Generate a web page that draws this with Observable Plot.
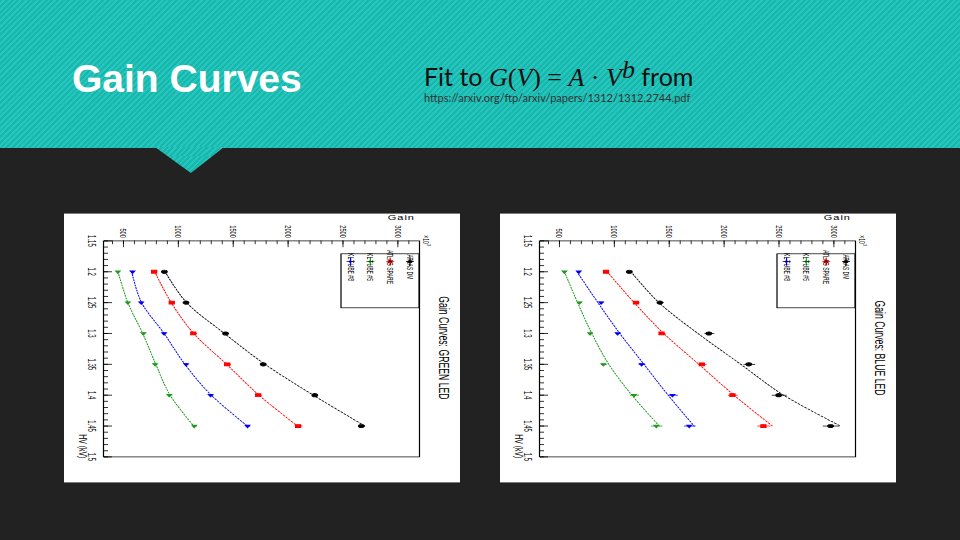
<!DOCTYPE html>
<html><head><meta charset="utf-8">
<script src="https://cdn.jsdelivr.net/npm/d3@7"></script>
<script src="https://cdn.jsdelivr.net/npm/@observablehq/plot@0.6"></script>
<style>
html,body{margin:0;padding:0}
body{width:960px;height:540px;background:#222222;overflow:hidden;position:relative;font-family:"Liberation Sans",Arial,sans-serif}
.teal{background:repeating-linear-gradient(135deg,#16b8ae 0px,#16b8ae 2px,#27c5bb 2px,#27c5bb 4px)}
#header{position:absolute;left:0;top:0;width:960px;height:148px}
#notch{position:absolute;left:155px;top:147px;width:69px;height:26px;clip-path:polygon(0 0,100% 0,52% 100%);background-position:-155px -147px}
#title{position:absolute;left:72px;top:57px;color:#fff;font:bold 39px "Liberation Sans",Arial,sans-serif;white-space:nowrap;line-height:44px}
#fit{position:absolute;left:424px;top:60px;color:#111;font-family:"Lato","Open Sans",sans-serif;font-size:25px;white-space:nowrap;line-height:32px}
#fit .m{font-family:"Liberation Serif","DejaVu Serif",serif;font-style:italic;font-size:26px}
#fit .p{font-family:"Liberation Serif","DejaVu Serif",serif;font-size:26px}
#fit sup{font-size:14px;line-height:0;vertical-align:8px}
#url{position:absolute;left:424px;top:91px;color:#333;font-family:"Lato","Open Sans",sans-serif;font-size:11px;white-space:nowrap}
.panel{position:absolute;width:448px;height:396px;transform-origin:224px 198px;transform:rotate(90deg) scale(0.6,1)}
</style></head>
<body>
<div id="header" class="teal"></div>
<div id="notch" class="teal"></div>
<div id="title">Gain Curves</div>
<div id="fit">Fit to <span class="m">G</span><span class="p">(</span><span class="m">V</span><span class="p">)</span> <span class="p">=</span> <span class="m">A</span><span class="p"> · </span><span class="m">V</span><sup class="m">b</sup> from</div>
<div id="url">https://arxiv.org/ftp/arxiv/papers/1312/1312.2744.pdf</div>
<div id="p1" class="panel" style="left:38px;top:149.5px"></div>
<div id="p2" class="panel" style="left:474px;top:149.5px"></div>
<script>
// ---- data (gain in units of 10^3) ----
const hv = [1.2, 1.25, 1.3, 1.35, 1.4, 1.45];
const seriesNames = ["ATLAS DM", "ATLAS SPARE", "KL TUBE #5", "KL TUBE #8"];
const seriesColors = ["#000000", "#ff0000", "#1f9a1f", "#0000ee"];
const seriesSymbols = ["circle", "square", "triangle", "triangle"];

// GREEN LED
const greenDM     = [873, 1070, 1430, 1773, 2243, 2667];
const greenSpare  = [779, 940, 1136, 1445, 1727, 2091];
const greenKL5    = [449, 540, 682, 788, 918, 1145];
const greenKL8    = [582, 661, 870, 1070, 1294, 1630];
const greenDMErr    = [15, 18, 20, 22, 25, 30];
const greenSpareErr = [25, 25, 28, 30, 32, 35];
const greenKL5Err   = [10, 12, 12, 14, 16, 18];
const greenKL8Err   = [12, 14, 15, 16, 18, 20];
const greenDMFit    = [880, 1075, 1420, 1790, 2230, 2700];
const greenSpareFit = [785, 935, 1140, 1440, 1735, 2085];
const greenKL5Fit   = [450, 540, 675, 795, 925, 1140];
const greenKL8Fit   = [575, 665, 870, 1060, 1300, 1630];

// BLUE LED
const blueDM     = [1136, 1415, 1861, 2225, 2497, 2970];
const blueSpare  = [924, 1197, 1430, 1797, 2076, 2358];
const blueKL5    = [545, 682, 779, 900, 1179, 1382];
const blueKL8    = [676, 879, 1030, 1248, 1530, 1682];
const blueDMErr    = [22, 30, 45, 53, 68, 76];
const blueSpareErr = [25, 28, 32, 38, 45, 60];
const blueKL5Err   = [12, 15, 20, 28, 42, 52];
const blueKL8Err   = [14, 18, 22, 30, 45, 53];
const blueDMFit    = [1152, 1406, 1761, 2152, 2543, 3061];
const blueSpareFit = [935, 1180, 1450, 1770, 2090, 2440];
const blueKL5Fit   = [545, 665, 795, 950, 1160, 1410];
const blueKL8Fit   = [660, 850, 1050, 1270, 1490, 1727];

const hvTicks = [1.15, 1.2, 1.25, 1.3, 1.35, 1.4, 1.45, 1.5];
const hvMinorTicks = d3.range(115, 151).map(d => d / 100);
const gainTicks = [500, 1000, 1500, 2000, 2500, 3000];
const gainMinorTicks = d3.range(4, 32).map(d => d * 100);
const hvDomain = [1.15, 1.5];
const gainDomain = [318, 3197];

function makeRows(vals, errs, fits) {
  const pts = [], fit = [];
  seriesNames.forEach((s, i) => {
    hv.forEach((h, j) => {
      pts.push({series: s, hv: h, gain: vals[i][j], err: errs[i][j]});
      fit.push({series: s, hv: h, fit: fits[i][j]});
    });
  });
  return {pts, fit};
}

function chart(title, data) {
  const W = 448, H = 396, mL = 45, mR = 43, mT = 40, mB = 40;
  const fw = W - mL - mR, fh = H - mT - mB;
  const big = data.pts.filter(d => d.series === "ATLAS DM" || d.series === "ATLAS SPARE");
  const small = data.pts.filter(d => !(d.series === "ATLAS DM" || d.series === "ATLAS SPARE"));
  const svg = Plot.plot({
    width: W, height: H,
    marginLeft: mL, marginRight: mR, marginTop: mT, marginBottom: mB,
    style: {background: "white", fontFamily: "'Liberation Sans', Arial, sans-serif", color: "black", overflow: "visible"},
    x: {domain: hvDomain},
    y: {domain: gainDomain},
    color: {domain: seriesNames, range: seriesColors},
    symbol: {domain: seriesNames, range: seriesSymbols},
    marks: [
      Plot.tickX(hvMinorTicks, {x: d => d, insetTop: fh - 4, stroke: "black"}),
      Plot.tickX(hvTicks, {x: d => d, insetTop: fh - 8, stroke: "black"}),
      Plot.tickY(gainMinorTicks, {y: d => d, insetRight: fw - 6, stroke: "black"}),
      Plot.tickY(gainTicks, {y: d => d, insetRight: fw - 11, stroke: "black"}),
      Plot.axisX({ticks: hvTicks, tickSize: 0, tickPadding: 8, label: null, fontSize: 10,
                  tickFormat: d => String(+d.toFixed(2))}),
      Plot.axisY({ticks: gainTicks, tickSize: 0, tickPadding: 5, label: null, fontSize: 9.5,
                  tickFormat: d => String(d)}),
      Plot.line(data.fit, {x: "hv", y: "fit", z: "series", stroke: "series", curve: "catmull-rom",
                  strokeWidth: 1.1, strokeDasharray: "2.2,2.2"}),
      Plot.ruleX(data.pts, {x: "hv", y1: d => d.gain - d.err, y2: d => d.gain + d.err, stroke: "series", strokeWidth: 1.2}),
      Plot.dot(big, {x: "hv", y: "gain", fill: "series", stroke: "series", symbol: "series", r: 2.7}),
      Plot.dot(small, {x: "hv", y: "gain", fill: "series", stroke: "series", symbol: "series", r: 1.6, rotate: 90}),
      Plot.frame({stroke: "black", strokeWidth: 1.2})
    ]
  });
  const s = d3.select(svg);
  // title
  s.append("text").attr("x", W / 2).attr("y", 21).attr("text-anchor", "middle")
    .attr("font-size", 14.5).attr("fill", "black").text(title);
  // y title
  s.append("text").attr("transform", `translate(11,${mT + 5}) rotate(-90)`).attr("text-anchor", "end")
    .attr("font-size", 11).attr("letter-spacing", 1).attr("fill", "black").text("Gain");
  // exponent
  const ex = s.append("text").attr("x", mL).attr("y", mT - 3).attr("font-size", 8.5).attr("fill", "black");
  ex.append("tspan").text("×10");
  ex.append("tspan").attr("dy", -4).attr("font-size", 6).text("3");
  // x title
  s.append("text").attr("x", W - mR + 3).attr("y", H - mB + 25).attr("text-anchor", "end")
    .attr("font-size", 11.5).attr("fill", "black").text("HV (kV)");
  // legend
  const lx0 = 67, lx1 = 157, ly0 = mT + 1, ly1 = 119;
  s.append("rect").attr("x", lx0).attr("y", ly0).attr("width", lx1 - lx0).attr("height", ly1 - ly0)
    .attr("fill", "white").attr("stroke", "black").attr("stroke-width", 1.2);
  seriesNames.forEach((name, i) => {
    const cy = 50 + i * 19.8, cx = 80, col = seriesColors[i];
    s.append("line").attr("x1", cx - 7).attr("x2", cx + 7).attr("y1", cy).attr("y2", cy).attr("stroke", col).attr("stroke-width", 1.2);
    s.append("line").attr("x1", cx).attr("x2", cx).attr("y1", cy - 4).attr("y2", cy + 4).attr("stroke", col).attr("stroke-width", 1.2);
    const sym = d3.symbol().type(seriesSymbols[i] === "circle" ? d3.symbolCircle : seriesSymbols[i] === "square" ? d3.symbolSquare : d3.symbolTriangle).size(i < 2 ? 22 : 8);
    s.append("path").attr("d", sym()).attr("transform", `translate(${cx},${cy})`).attr("fill", col);
    s.append("text").attr("x", 89).attr("y", cy + 3).attr("font-size", 8.5).attr("fill", "black").text(name);
  });
  return svg;
}

const g = makeRows([greenDM, greenSpare, greenKL5, greenKL8],
                   [greenDMErr, greenSpareErr, greenKL5Err, greenKL8Err],
                   [greenDMFit, greenSpareFit, greenKL5Fit, greenKL8Fit]);
const b = makeRows([blueDM, blueSpare, blueKL5, blueKL8],
                   [blueDMErr, blueSpareErr, blueKL5Err, blueKL8Err],
                   [blueDMFit, blueSpareFit, blueKL5Fit, blueKL8Fit]);
document.getElementById("p1").appendChild(chart("Gain Curves: GREEN LED", g));
document.getElementById("p2").appendChild(chart("Gain Curves: BLUE LED", b));
</script>
</body></html>
